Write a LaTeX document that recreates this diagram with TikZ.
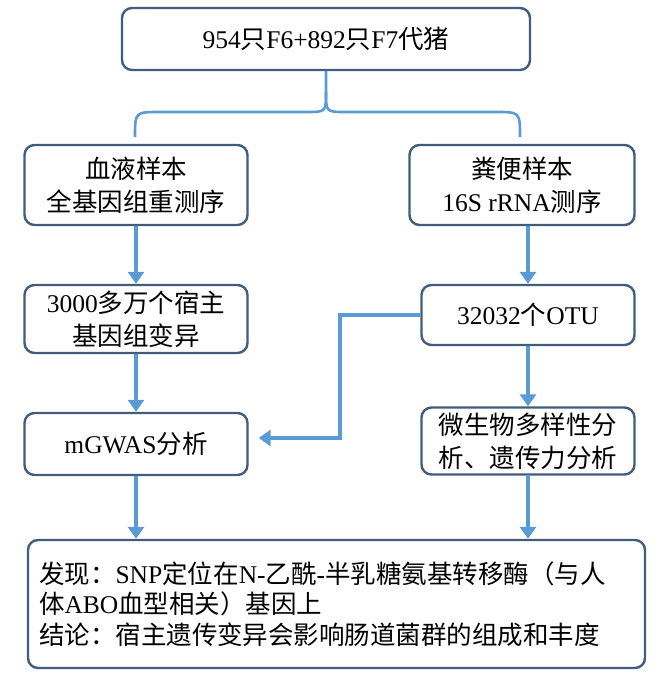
\documentclass[tikz,border=0pt]{standalone}
\usepackage{fontspec}
\setmainfont{Liberation Serif}
\newfontfamily\cjk{Noto Sans CJK SC}
\newcommand\zh[1]{{\cjk #1}}
\usetikzlibrary{arrows.meta}
\definecolor{bd}{RGB}{66,92,124}
\definecolor{ar}{RGB}{91,155,213}
\begin{document}
\begin{tikzpicture}[x=1pt,y=-1pt,
  box/.style={draw=bd,line width=2.4pt,rounded corners=10pt,fill=white,align=center,font=\fontsize{25.5}{33}\selectfont,inner sep=0pt},
  arr/.style={draw=ar,line width=3.4pt,-{Triangle[length=12pt,width=16pt]}}]
\useasboundingbox (0,0) rectangle (669,683);
\node[box,minimum width=408pt,minimum height=62pt] (top) at (326,39) {954\zh{只}F6+892\zh{只}F7\zh{代猪}};
\node[box,minimum width=223pt,minimum height=80pt] (l1) at (136,185) {\zh{血液样本}\\\zh{全基因组重测序}};
\node[box,minimum width=225pt,minimum height=80pt] (r1) at (522,185) {\zh{粪便样本}\\16S rRNA\zh{测序}};
\node[box,minimum width=223pt,minimum height=68pt] (l2) at (136,319) {3000\zh{多万个宿主}\\\zh{基因组变异}};
\node[box,minimum width=213pt,minimum height=60pt] (r2) at (528,315) {32032\zh{个}OTU};
\node[box,minimum width=223pt,minimum height=62pt] (l3) at (136,444) {mGWAS\zh{分析}};
\node[box,minimum width=213pt,minimum height=67pt] (r3) at (528,441) {\zh{微生物多样性分}\\\zh{析、遗传力分析}};
\node[box,minimum width=617pt,minimum height=128pt] (bot) at (336.5,604) {\begin{minipage}{595pt}\raggedright\fontsize{25.5}{30.5}\selectfont
\zh{发现：}SNP\zh{定位在}N-\zh{乙酰}-\zh{半乳糖氨基转移酶（与人}\\
\zh{体}ABO\zh{血型相关）基因上}\\
\zh{结论：宿主遗传变异会影响肠道菌群的组成和丰度}\end{minipage}};
% brace
\coordinate (bl) at (135,137);
\coordinate (br) at (520,137);
\draw[ar,line width=2.6pt] (bl) .. controls (135,112) .. (160,112) -- (306,112) .. controls (326,112) .. (326,92) -- (top.south) ;
\draw[ar,line width=2.6pt] (br) .. controls (520,112) .. (495,112) -- (346,112) .. controls (326,112) .. (326,92);
\draw[arr] (l1.south) -- (l2.north);
\draw[arr] (r1.south -| r2.north) -- (r2.north);
\draw[arr] (l2.south) -- (l3.north);
\draw[arr] (r2.south) -- (r3.north);
\draw[arr] (r2.west) -- (340,315) -- (340,438) -- ([xshift=10pt]l3.east |- 0,438);
\draw[arr] (l3.south) -- (l3.south |- bot.north);
\draw[arr] (r3.south) -- (r3.south |- bot.north);
\end{tikzpicture}
\end{document}
